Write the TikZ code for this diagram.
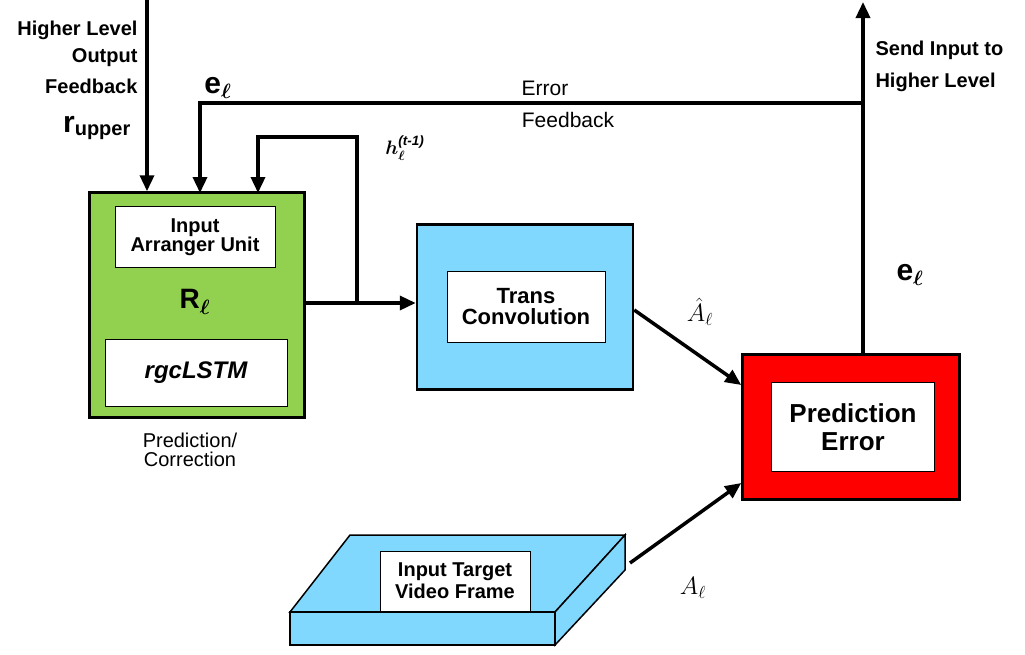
\documentclass[tikz,border=0pt]{standalone}
\usepackage{amsmath,amssymb,bm}
\usepackage{graphicx}
\usepackage{fontspec}
\setmainfont{Liberation Sans}
\usetikzlibrary{arrows.meta,positioning}
\definecolor{boxgreen}{RGB}{146,208,80}
\definecolor{boxblue}{RGB}{128,216,255}
\newcommand{\fs}[1]{\fontsize{#1}{#1}\selectfont}
\tikzset{
  blk/.style={draw, line width=2.5pt},
  inner/.style={draw, line width=1pt, fill=white, align=center, font=\fs{20}\bfseries},
  lbl/.style={font=\fs{20}\bfseries, align=right},
  arrow/.style={-{Triangle[length=16pt,width=14pt]}, line width=3.5pt},
  wire/.style={line width=3.5pt}
}
\begin{document}
\begin{tikzpicture}[x=1pt,y=-1pt]
  \useasboundingbox (0,0) rectangle (1025,654);
  % blocks
  \node[blk, fill=boxgreen, minimum width=215pt, minimum height=225pt] (R) at (197,305) {};
  \node[inner, minimum width=160pt, minimum height=61pt] (arr) at (195,237) {Input\\[-1pt]Arranger Unit};
  \node[font=\fs{28}\bfseries] (Rl) at (195,302) {R$_{\bm{\ell}}$};
  \node[inner, minimum width=182pt, minimum height=67pt, font=\fs{24}\bfseries\itshape] (lstm) at (196,373) {rgcLSTM};
  \node[align=center, font=\fs{20}] (pc) at (190,450) {Prediction/\\[-1pt]Correction};
  \node[blk, fill=boxblue, minimum width=216pt, minimum height=165pt] (T) at (525,307) {};
  \node[inner, minimum width=158pt, minimum height=71pt, font=\fs{22}\bfseries] (tc) at (526,307) {Trans\\[-1pt]Convolution};
  \node[blk, fill=red, minimum width=217pt, minimum height=145pt] (E) at (851,427) {};
  \node[inner, minimum width=163pt, minimum height=89pt, font=\fs{26}\bfseries] (pe) at (853,427) {Prediction\\[2pt]Error};
  % video frame slab
  \draw[line width=1.5pt, fill=boxblue] (350,535) -- (625,535) -- (555,612) -- (290,612) -- cycle;
  \draw[line width=1.5pt, fill=boxblue] (290,612) -- (555,612) -- (555,645) -- (290,645) -- cycle;
  \draw[line width=1.5pt, fill=boxblue] (555,612) -- (625,535) -- (625,570) -- (555,645) -- cycle;
  \node[inner, minimum width=150pt, minimum height=60pt] (vf) at (455,581) {Input Target\\[2pt]Video Frame};
  \coordinate (vfr) at (630,563);
  % connectors
  \coordinate (top) at (147,0);
  \draw[arrow] (top) -- (R.north -| top);
  \coordinate (send) at (863,2);
  \draw[arrow] (E.north -| send) -- (send);
  \coordinate (ej) at (863,103);
  \draw[wire] (ej) -- (200,103);
  \draw[arrow] (200,101.25) -- (200,193);
  \coordinate (split) at (357,303);
  \draw[arrow] (R.east |- split) -- (T.west |- split);
  \draw[wire] (split) -- (357,137) -- (258,137);
  \draw[arrow] (258,135.25) -- (258,193);
  \draw[arrow] (T.east |- 0,310) -- (E.west |- 0,385);
  \draw[arrow] (vfr) -- (E.west |- 0,483);
  % labels
  \node[lbl, anchor=east] at (141,30) {Higher Level};
  \node[lbl, anchor=east] at (141,58) {Output};
  \node[lbl, anchor=east] at (141,86) {Feedback};
  \node[font=\fs{30}\bfseries] at (97,128) {r$_{\text{\fs{20}\bfseries upper}}$};
  \node[font=\fs{30}\bfseries] at (218,88) {e$_{\bm{\ell}}$};
  \node[font=\fs{21}] at (545,88) {Error};
  \node[font=\fs{21}] at (568,120) {Feedback};
  \node at (405,148) {\scalebox{1.35}{\Large$\bm{h_{\ell}^{\textit{\textbf{(t-1)}}}}$}};
  \node[lbl, anchor=west, align=left] at (872,50) {Send Input to};
  \node[lbl, anchor=west, align=left] at (872,82) {Higher Level};
  \node[font=\fs{30}\bfseries] at (910,275) {e$_{\bm{\ell}}$};
  \node at (700,312) {\scalebox{1.45}{\LARGE$\hat{A}_{\ell}$}};
  \node at (693,588) {\scalebox{1.45}{\LARGE$A_{\ell}$}};
\end{tikzpicture}
\end{document}
